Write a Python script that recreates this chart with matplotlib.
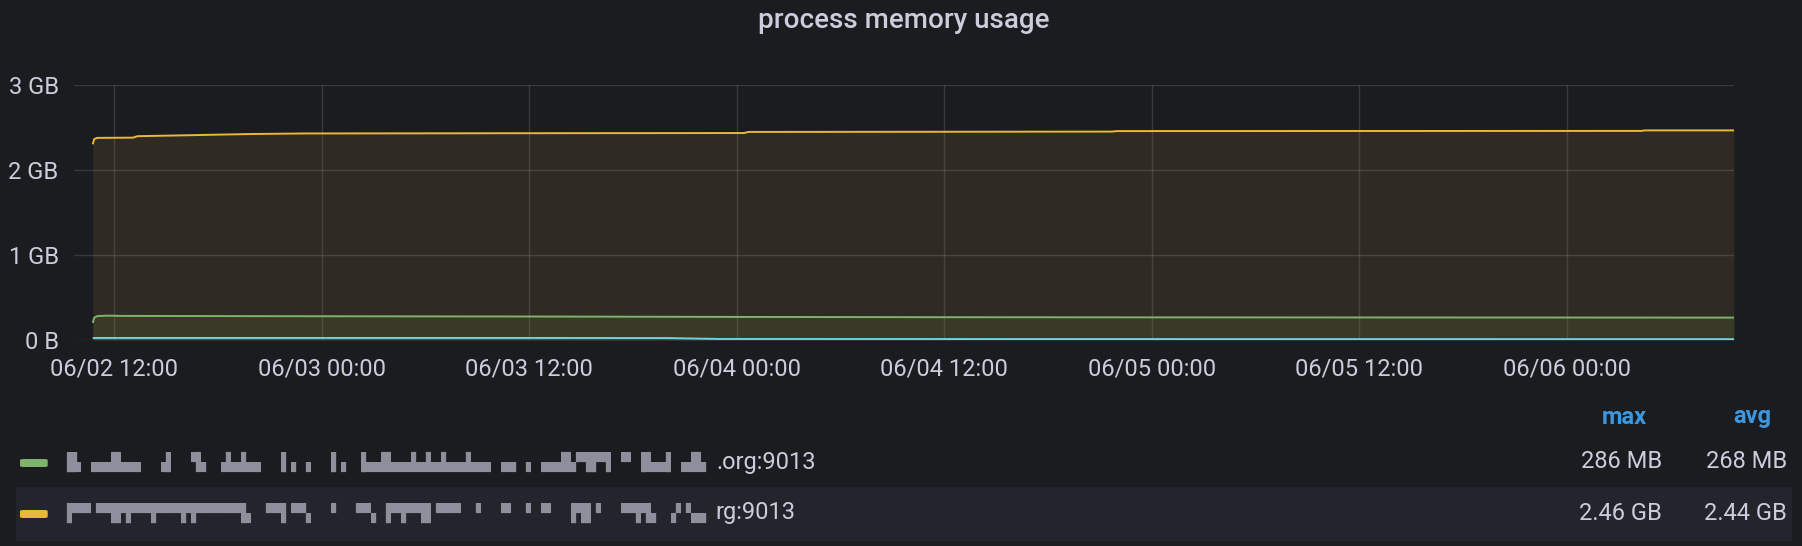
import matplotlib
matplotlib.use("Agg")
import matplotlib.pyplot as plt
import matplotlib.dates as mdates
import pandas as pd
from matplotlib.patches import FancyBboxPatch, Rectangle

# ---------------- data ----------------
title = "process memory usage"
x_range = ["2023-06-02 09:40", "2023-06-06 09:40"]

green_times = ["2023-06-02 10:45", "2023-06-02 10:50", "2023-06-02 11:00", "2023-06-02 11:30",
               "2023-06-02 12:30", "2023-06-03 00:00", "2023-06-03 12:00", "2023-06-04 00:00",
               "2023-06-04 12:00", "2023-06-05 00:00", "2023-06-05 12:00", "2023-06-06 00:00",
               "2023-06-06 09:40"]
green_gb = [0.20, 0.262, 0.280, 0.286, 0.283, 0.279, 0.276, 0.271, 0.268, 0.266, 0.265, 0.264, 0.263]

yellow_times = ["2023-06-02 10:45", "2023-06-02 10:50", "2023-06-02 11:00", "2023-06-02 13:05",
                "2023-06-02 13:20", "2023-06-02 16:00", "2023-06-02 19:45", "2023-06-02 23:00",
                "2023-06-03 12:00", "2023-06-04 00:25", "2023-06-04 00:40", "2023-06-04 12:00",
                "2023-06-04 21:40", "2023-06-04 22:00", "2023-06-06 04:20", "2023-06-06 04:30",
                "2023-06-06 09:40"]
yellow_gb = [2.30, 2.36, 2.375, 2.378, 2.395, 2.405, 2.42, 2.427, 2.43, 2.432, 2.445, 2.447,
             2.449, 2.455, 2.457, 2.463, 2.463]

cyan_times = ["2023-06-02 10:45", "2023-06-03 12:00", "2023-06-03 20:00", "2023-06-03 23:00",
              "2023-06-05 00:00", "2023-06-06 09:40"]
cyan_gb = [0.024, 0.024, 0.023, 0.012, 0.011, 0.010]

ytick_vals = [0, 1, 2, 3]
ytick_labels = ["0 B", "1 GB", "2 GB", "3 GB"]
xtick_times = ["2023-06-02 12:00", "2023-06-03 00:00", "2023-06-03 12:00", "2023-06-04 00:00",
               "2023-06-04 12:00", "2023-06-05 00:00", "2023-06-05 12:00", "2023-06-06 00:00"]

legend_colors = ["#7EB26D", "#EAB839"]
# pixelated (redacted) host names, drawn with block glyphs
legend_masked = [
    "█▖▗▄▟▙▄▖ ▗▌ ▝▙ ▗▙▟▄▖ ▐▗ ▖ ▐▗ ▐▄▟▙▄▟▄▙▟▄▄▙▄▖▗▄ ▖▗▄▟▙▀█▀▌▝▘▐▙▄▌▗▟▙",
    "▛▀▘▀▜▛▛▀▜▀▀▜▜▀▀▀▀▜▖ ▀▜▝▀▖ ▝  ▀▚ ▛▜▀▜▌▀▀▘ ▘ ▝▘ ▘▝▘ ▐▜▌▘ ▝▀▛▙ ▗▘▚▄",
]
legend_suffix = [".org:9013", "rg:9013"]
legend_max = ["286 MB", "2.46 GB"]
legend_avg = ["268 MB", "2.44 GB"]

# ---------------- style ----------------
W, H, DPI = 1802, 546, 100
BG = "#1b1c20"
TXT = "#ccccdc"
FONT = ["Roboto", "DejaVu Sans"]
plt.rcParams["font.family"] = FONT


def fx(px):
    return px / W


def fy(py):
    return 1 - py / H


fig = plt.figure(figsize=(W / DPI, H / DPI), dpi=DPI, facecolor=BG)

ax_l, ax_r, ax_t, ax_b = 74, 1734, 84.7, 340
ax = fig.add_axes([fx(ax_l), fy(ax_b), (ax_r - ax_l) / W, (ax_b - ax_t) / H])
ax.set_facecolor(BG)

series = [
    (green_times, green_gb, "#7EB26D"),
    (yellow_times, yellow_gb, "#EAB839"),
    (cyan_times, cyan_gb, "#6ED0E0"),
]
for times, vals, col in series:
    t = pd.to_datetime(times)
    ax.fill_between(t, 0, vals, color=col, alpha=0.10, linewidth=0, zorder=2)
    ax.plot(t, vals, color=col, linewidth=1.4, zorder=3, solid_capstyle="butt")

ax.set_xlim(pd.to_datetime(x_range[0]), pd.to_datetime(x_range[1]))
ax.set_ylim(0, 3)
ax.set_yticks(ytick_vals)
ax.set_yticklabels(ytick_labels)
ax.set_xticks(pd.to_datetime(xtick_times))
ax.xaxis.set_major_formatter(mdates.DateFormatter("%m/%d %H:%M"))
ax.tick_params(axis="both", length=0, labelsize=17, colors=TXT)
ax.tick_params(axis="y", pad=11)
ax.tick_params(axis="x", pad=12.5)
ax.grid(True, color="#ccccdc", alpha=0.16, linewidth=1.0, zorder=1)
ax.set_axisbelow(True)
for s in ax.spines.values():
    s.set_visible(False)

# title
fig.text(fx(904), fy(20), title, ha="center", va="center", fontsize=20,
         fontweight="medium", color=TXT)

# legend header
fig.text(fx(1647), fy(417), "max", ha="right", va="center", fontsize=17,
         fontweight="bold", color="#3d97df")
fig.text(fx(1771), fy(417), "avg", ha="right", va="center", fontsize=17,
         fontweight="bold", color="#3d97df")

# second row band
fig.add_artist(Rectangle((fx(16), fy(541)), fx(1792) - fx(16), fy(487) - fy(541),
                         transform=fig.transFigure, facecolor="#22252b", edgecolor="none", zorder=0))

row_y = [462, 513]
suffix_x = [716, 715]
for i in range(2):
    yc = row_y[i]
    sw = FancyBboxPatch((fx(20), fy(yc + 5)), fx(47.7) - fx(20), fy(yc - 3) - fy(yc + 5),
                        boxstyle="round,pad=0,rounding_size=0.002", transform=fig.transFigure,
                        facecolor=legend_colors[i], edgecolor="none")
    fig.add_artist(sw)
    fig.text(fx(66), fy(yc), legend_masked[i], ha="left", va="center", fontsize=12,
             family="DejaVu Sans Mono", color="#8e8e9c")
    fig.text(fx(suffix_x[i]), fy(yc), legend_suffix[i], ha="left", va="center",
             fontsize=17, color=TXT)
    fig.text(fx(1662), fy(yc), legend_max[i], ha="right", va="center", fontsize=17, color=TXT)
    fig.text(fx(1787), fy(yc), legend_avg[i], ha="right", va="center", fontsize=17, color=TXT)

fig.savefig("out.png", dpi=DPI, facecolor=BG)
